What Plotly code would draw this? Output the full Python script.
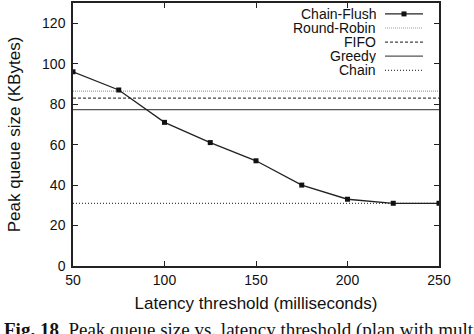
import plotly.graph_objects as go

latency = [50, 75, 100, 125, 150, 175, 200, 225, 250]
chain_flush = [96, 87, 71, 61, 52, 40, 33, 31, 31]
x_span = [50, 250]
round_robin = [86.4, 86.4]
fifo = [83, 83]
greedy = [77.3, 77.3]
chain = [31, 31]

x_ticks = [50, 100, 150, 200, 250]
y_ticks = [0, 20, 40, 60, 80, 100, 120]

series = [
    ("Chain-Flush", "solid", "#222", 1.3),
    ("Round-Robin", "1px,1px", "#a0a0a0", 1.2),
    ("FIFO", "3px,2px", "#444", 1.2),
    ("Greedy", "solid", "#555", 1.2),
    ("Chain", "1px,2px", "#444", 1.2),
]

fig = go.Figure()
for name, ys in [("Round-Robin", round_robin), ("FIFO", fifo), ("Greedy", greedy), ("Chain", chain)]:
    s = [t for t in series if t[0] == name][0]
    fig.add_trace(go.Scatter(x=x_span, y=ys, mode="lines", name=name,
                             line=dict(color=s[2], dash=s[1], width=s[3]), showlegend=False))
fig.add_trace(go.Scatter(x=latency, y=chain_flush, mode="lines+markers", name="Chain-Flush",
                         line=dict(color="#222", width=1.3),
                         marker=dict(symbol="square", size=5, color="#111"), showlegend=False))

font = "Liberation Sans, Arial, sans-serif"

# custom legend (text right-aligned, sample to the right)
plot_l, plot_r, plot_t, plot_b = 73, 439, 1, 266
def px(x):
    return (x - plot_l) / (plot_r - plot_l)
def py(y):
    return (plot_b - y) / (plot_b - plot_t)

anns = []
shapes = []
for i, (name, dash, color, w) in enumerate(series):
    yy = py(12 + i * 14.2)
    anns.append(dict(x=px(377), y=yy, xref="paper", yref="paper", text=name, showarrow=False,
                     xanchor="right", yanchor="middle", height=14, borderpad=0,
                     font=dict(family=font, size=14, color="#111")))
    shapes.append(dict(type="line", xref="paper", yref="paper", x0=px(385), x1=px(423), y0=yy, y1=yy,
                       line=dict(color=color, dash=dash, width=w)))
    if name == "Chain-Flush":
        shapes.append(dict(type="rect", xref="paper", yref="paper",
                           x0=px(401.5), x1=px(406.5), y0=yy - 2.5 / 265, y1=yy + 2.5 / 265,
                           fillcolor="#111", line=dict(width=0)))

anns.append(dict(x=-71 / 366, y=py(317), xref="paper", yref="paper",
                 text="<b>Fig. 18</b>  Peak queue size vs. latency threshold (plan with multiple operators)",
                 showarrow=False, xanchor="left", yanchor="top",
                 font=dict(family="Liberation Serif, Times New Roman, serif", size=19, color="#111")))

fig.update_layout(
    width=474, height=334,
    margin=dict(l=plot_l, r=474 - plot_r, t=plot_t, b=334 - plot_b),
    plot_bgcolor="white", paper_bgcolor="white",
    font=dict(family=font, size=14, color="#111"),
    annotations=anns, shapes=shapes,
    xaxis=dict(range=[50, 250], tickvals=x_ticks, ticks="inside", ticklen=5, tickcolor="#222",
               showline=True, linecolor="#222", linewidth=1.5, mirror="allticks", showgrid=False,
               zeroline=False, title=dict(text="Latency threshold (milliseconds)", standoff=11),
               tickfont=dict(size=14), ticklabelstandoff=0),
    yaxis=dict(range=[0, 130], tickvals=y_ticks, ticks="inside", ticklen=5, tickcolor="#222",
               showline=True, linecolor="#222", linewidth=1.5, mirror="allticks", showgrid=False,
               zeroline=False, title=dict(text="Peak queue size (KBytes)", standoff=17),
               tickfont=dict(size=14), ticklabelstandoff=3),
)

fig.write_html("out.html")
